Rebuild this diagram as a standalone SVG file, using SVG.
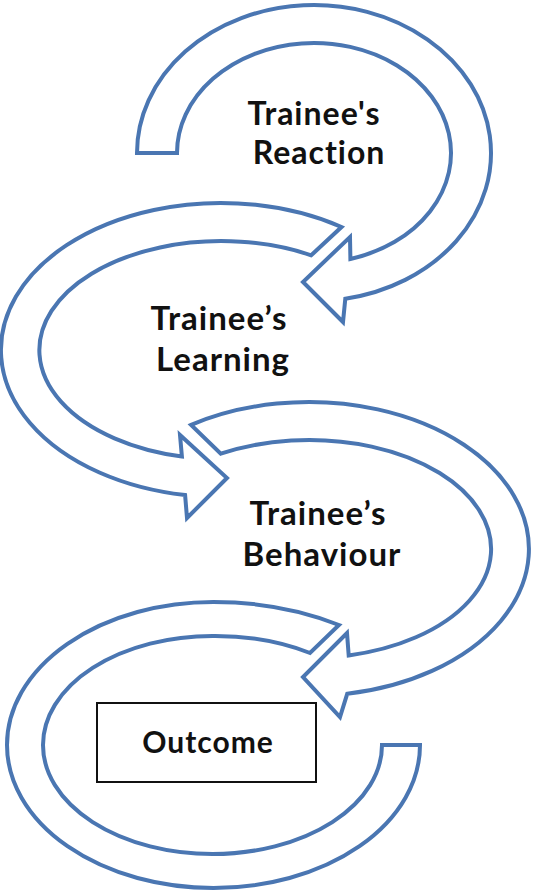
<svg xmlns="http://www.w3.org/2000/svg" width="534" height="892" viewBox="0 0 534 892">
  <style>
    .arrow { fill: #ffffff; stroke: #4a76b2; stroke-width: 4; stroke-linejoin: miter; stroke-miterlimit: 10; }
    .lbl { font-family: Lato, "Open Sans", "Liberation Sans", sans-serif; font-weight: bold; font-size: 33px; letter-spacing: 1px; fill: #111111; text-anchor: middle; }
    .box { fill: #ffffff; stroke: #111111; stroke-width: 2; }
  </style>
  <rect x="0" y="0" width="534" height="892" fill="#ffffff"/>
  <g id="connectors">
    <path id="arrow-reaction" class="arrow" d="M137,153 A177,148 0 1 1 345.3,298.7 L343,322 L303,282 L350,237 L350.4,259 A137,110 0 1 0 177,153 Z"/>
    <path id="arrow-learning" class="arrow" d="M341.5,227 A220,147 0 1 0 185.1,495 L187,518 L227,478 L180,435 L181.9,456.5 A182,109 0 1 1 311.2,255.3 Z"/>
    <path id="arrow-behaviour" class="arrow" d="M191.1,424.9 A220,147 0 1 1 347.2,693.8 L340,717 L303,677 L347,633 L348.7,655.4 A182,109 0 1 0 220.8,453.7 Z"/>
    <path id="arrow-outcome" class="arrow" d="M339,625 A231,143 0 0 0 213.5,602 A206.5,143 0 0 0 7,745 A206.5,143 0 0 0 420,745 L382,745 A169.5,109 0 0 1 43,745 A169.5,109 0 0 1 212.5,636 A177,109 0 0 1 310,653 Z"/>
  </g>
  <g id="node-reaction">
    <text class="lbl" x="314" y="125" style="font-size:32px">Trainee's</text>
    <text class="lbl" x="319" y="164" style="font-size:32px">Reaction</text>
  </g>
  <g id="node-learning">
    <text class="lbl" x="219" y="330">Trainee’s</text>
    <text class="lbl" x="223" y="371">Learning</text>
  </g>
  <g id="node-behaviour">
    <text class="lbl" x="318" y="525">Trainee’s</text>
    <text class="lbl" x="322" y="566">Behaviour</text>
  </g>
  <g id="node-outcome">
    <rect class="box" x="97" y="703" width="219" height="79"/>
    <text class="lbl" x="208" y="753" style="font-size:30px">Outcome</text>
  </g>
</svg>
